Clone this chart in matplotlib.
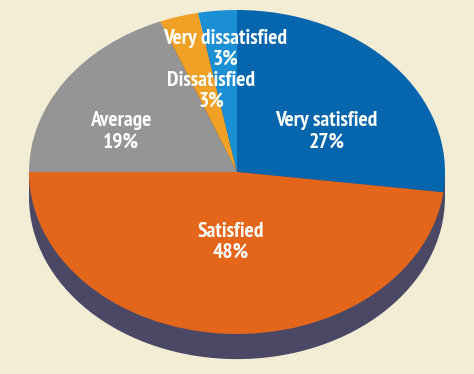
import matplotlib
matplotlib.use("Agg")
import matplotlib.pyplot as plt
from matplotlib.patches import Ellipse, Rectangle

# Data
categories = ["Very satisfied", "Satisfied", "Average", "Dissatisfied", "Very dissatisfied"]
values = [27, 48, 19, 3, 3]
pct_labels = ["27%", "48%", "19%", "3%", "3%"]

# Style
colors = ["#0565ad", "#e3661b", "#959595", "#f0a024", "#1b8fd3"]
side_color = "#4b4866"
bg = "#f3edd6"
# label anchor positions (axes data coords) for each category
label_pos = [(0.43, 0.25), (-0.03, -0.43), (-0.56, 0.25), (-0.125, 0.50), (-0.058, 0.76)]

fig = plt.figure(figsize=(4.74, 3.74), dpi=100)
fig.patch.set_facecolor(bg)
ax = fig.add_axes([0, 0, 1, 1])
ax.set_facecolor(bg)

depth = 0.155
ax.add_patch(Ellipse((0, -depth), 2, 2, facecolor=side_color, edgecolor="none", zorder=1))
ax.add_patch(Rectangle((-1, -depth), 2, depth, facecolor=side_color, edgecolor="none", zorder=1))

wedges, _ = ax.pie(values, colors=colors, startangle=90, counterclock=False,
                   radius=1, center=(0, 0), frame=True,
                   wedgeprops=dict(linewidth=0, zorder=2))
ax.set_xlim(-237 / 208, 237 / 208)
ax.set_ylim((172 - 374) / 162, 172 / 162)
ax.set_aspect("auto")
ax.axis("off")

fam = ["PT Sans Narrow", "Pragati Narrow", "Liberation Sans", "DejaVu Sans"]
for cat, pct, (x, y) in zip(categories, pct_labels, label_pos):
    ax.text(x, y, cat + "\n" + pct, ha="center", va="center", color="white",
            fontsize=15.5, fontweight="bold", family=fam, linespacing=1.15, zorder=5)

fig.savefig("out.png", dpi=100, facecolor=bg)
